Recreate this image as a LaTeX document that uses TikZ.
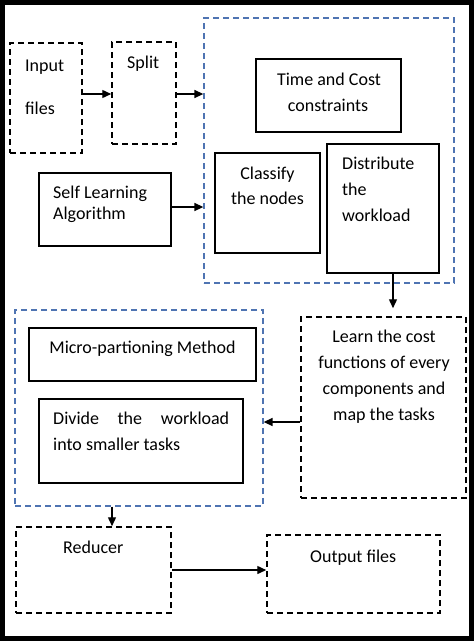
\documentclass[tikz,border=0pt]{standalone}
\usepackage{fontspec}
\setmainfont{Carlito}
\usetikzlibrary{arrows.meta}
\definecolor{dashblue}{HTML}{4F74B2}
\begin{document}
\begin{tikzpicture}[x=1pt,y=-1pt,
  solidbox/.style={draw=black,line width=1.3pt,inner sep=0pt},
  dashbox/.style={draw=black,line width=1.5pt,dash pattern=on 6pt off 4pt,inner sep=0pt},
  bluebox/.style={draw=dashblue,line width=1.3pt,dash pattern=on 6pt off 4pt,inner sep=0pt},
  arr/.style={line width=1.4pt,-{Triangle[length=9pt,width=8pt]}},
  txt/.style={inner sep=0pt,font=\fontsize{18}{26}\selectfont}]
\useasboundingbox (0,0) rectangle (474,641);
\fill[white] (0,0) rectangle (474,641);
\draw[line width=5pt] (2.5,2.5) rectangle (471,638.5);
% boxes
\node[dashbox,minimum width=72pt,minimum height=110pt] (inp) at (46,98) {};
\node[dashbox,minimum width=64pt,minimum height=102pt] (spl) at (144,93) {};
\node[bluebox,minimum width=250pt,minimum height=265pt] (blue1) at (329,150.5) {};
\node[solidbox,minimum width=132pt,minimum height=73pt] (sla) at (105,209.5) {};
\node[solidbox,minimum width=145pt,minimum height=73pt] (tcc) at (328.5,95.5) {};
\node[solidbox,minimum width=105pt,minimum height=100pt] (cls) at (267.5,203) {};
\node[solidbox,minimum width=112pt,minimum height=129pt] (dst) at (383,208.5) {};
\node[dashbox,minimum width=165pt,minimum height=181pt] (lrn) at (383.5,407.5) {};
\node[bluebox,minimum width=248pt,minimum height=196pt] (blue2) at (139,408) {};
\node[solidbox,minimum width=227pt,minimum height=53pt] (mic) at (142.5,354.5) {};
\node[solidbox,minimum width=204pt,minimum height=84pt] (div) at (141,441) {};
\node[dashbox,minimum width=155pt,minimum height=86pt] (red) at (93.5,570) {};
\node[dashbox,minimum width=173pt,minimum height=78pt] (out) at (353.5,574) {};
% texts
\node[txt,anchor=base west] (t1) at (25,71) {Input};
\node[txt,anchor=base west] (t2) at (25,114) {files};
\node[txt,anchor=base west] (t3) at (127,68) {Split};
\node[txt,anchor=base west] (t4) at (53,198) {Self Learning};
\node[txt,anchor=base west] (t5) at (53,219) {Algorithm};
\node[txt,anchor=base] (t6) at (329,85) {Time and Cost};
\node[txt,anchor=base] (t7) at (328,111) {constraints};
\node[txt,anchor=base] (t8) at (267.5,179) {Classify};
\node[txt,anchor=base] (t9) at (267.5,204) {the nodes};
\node[txt,anchor=base west] (t10) at (342,169) {Distribute};
\node[txt,anchor=base west] (t11) at (342,195) {the};
\node[txt,anchor=base west] (t12) at (342,221) {workload};
\node[txt,anchor=base] (t13) at (384,342) {Learn the cost};
\node[txt,anchor=base] (t14) at (384,368) {functions of every};
\node[txt,anchor=base] (t15) at (384,394) {components and};
\node[txt,anchor=base] (t16) at (384,420) {map the tasks};
\node[txt,anchor=base] (t17) at (142.5,353) {Micro-partioning Method};
\node[txt,anchor=base west] (t18) at (53,424) {\hbox to 176pt{Divide\hfill the\hfill workload}};
\node[txt,anchor=base west] (t19) at (53,450) {into smaller tasks};
\node[txt,anchor=base west] (t20) at (63,553) {Reducer};
\node[txt,anchor=base west] (t21) at (310,562) {Output files};
% arrows
\draw[arr] ([yshift=4pt]inp.east) -- ([yshift=4pt]inp.east -| spl.west);
\draw[arr] ([yshift=-1pt]spl.east) -- ([yshift=-1pt]spl.east -| blue1.west);
\draw[arr] ([yshift=2.5pt]sla.east) -- ([yshift=2.5pt]sla.east -| blue1.west);
\draw[arr,shorten >=8pt] ([xshift=10pt]dst.south) -- ([xshift=10pt]dst.south |- lrn.north);
\draw[arr] ([yshift=-14.5pt]lrn.west) -- ([yshift=-14.5pt]lrn.west -| blue2.east);
\draw[arr] ([xshift=-27pt]blue2.south) -- ([xshift=-27pt]blue2.south |- red.north);
\draw[arr] (red.east) -- (red.east -| out.west);
\end{tikzpicture}
\end{document}
